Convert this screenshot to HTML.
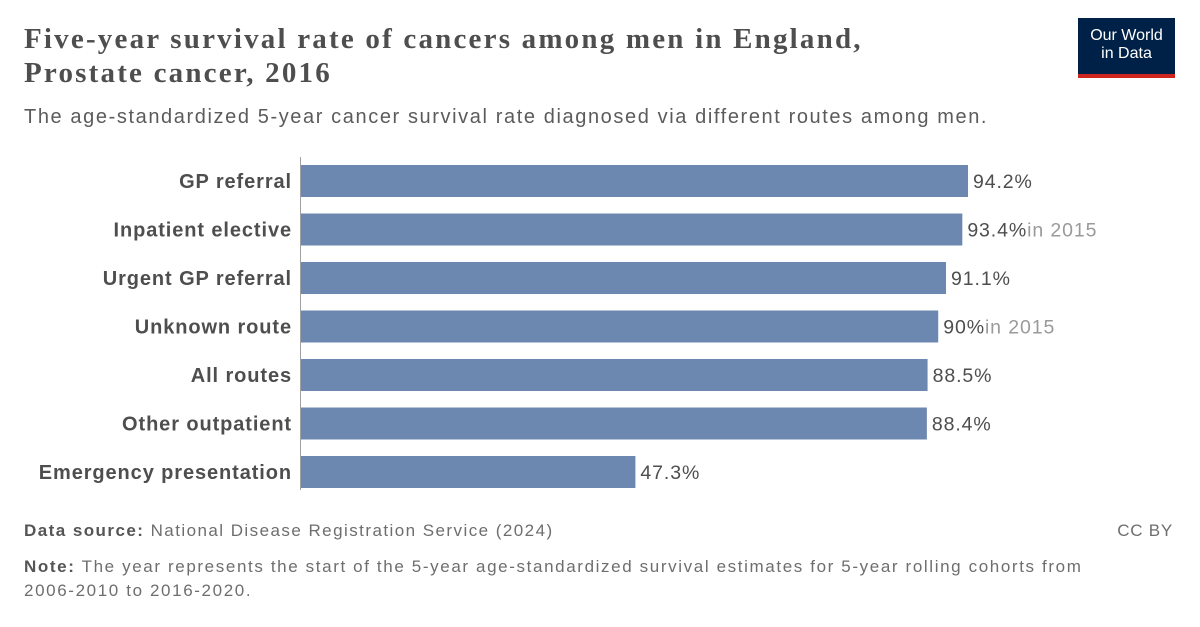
<!DOCTYPE html>
<html><head><meta charset="utf-8"><style>
body{margin:0;width:1200px;height:627px;background:#fff;position:relative;font-family:"Liberation Sans",sans-serif;overflow:hidden}
.t{position:absolute;white-space:nowrap}
</style></head><body>
<div class="t" style="left:24px;top:22px;font-family:'Liberation Serif',serif;font-size:29px;font-weight:bold;letter-spacing:2.2px;line-height:34px;color:#4e4e4e">Five-year survival rate of cancers among men in England,<br>Prostate cancer, 2016</div>
<div class="t" style="left:24px;top:106px;font-size:20px;letter-spacing:1.6px;color:#5b5b5b">The age-standardized 5-year cancer survival rate diagnosed via different routes among men.</div>
<div style="position:absolute;left:1078px;top:18px;width:97px;height:60px;background:#002147;border-bottom:4px solid #ce261e;box-sizing:border-box;color:#fff;font-size:16px;line-height:18px;text-align:center;padding-top:9px">Our World<br>in Data</div>
<svg id="c" width="1200" height="627" style="position:absolute;left:0;top:0"></svg>
<div class="t" style="left:24px;top:521px;font-size:17px;letter-spacing:1.45px;color:#6e6e6e"><b style="color:#555">Data source:</b> National Disease Registration Service (2024)</div>
<div class="t" style="right:27px;top:521px;font-size:17px;letter-spacing:0.75px;color:#6e6e6e">CC BY</div>
<div class="t" style="left:24px;top:555px;font-size:17px;letter-spacing:1.62px;line-height:24px;color:#6e6e6e"><b style="color:#555">Note:</b> The year represents the start of the 5-year age-standardized survival estimates for 5-year rolling cohorts from<br>2006-2010 to 2016-2020.</div>
<script>
const categories=["GP referral","Inpatient elective","Urgent GP referral","Unknown route","All routes","Other outpatient","Emergency presentation"];
const values=[94.2,93.4,91.1,90,88.5,88.4,47.3];
const valueLabels=["94.2%","93.4%","91.1%","90%","88.5%","88.4%","47.3%"];
const yearNotes=["","in 2015","","in 2015","","",""];
const svg=document.getElementById('c');
const NS='http://www.w3.org/2000/svg';
const x0=300,pxPer=668/94.2;
const xs=v=>x0+v*pxPer;
const yc=i=>181+i*48.5;
function mk(t,a){const e=document.createElementNS(NS,t);for(const k in a)e.setAttribute(k,a[k]);svg.appendChild(e);return e;}
categories.forEach((c,i)=>{
 const r=mk('rect',{x:x0,y:yc(i)-16,width:xs(values[i])-x0,height:32,fill:'#6d88b0'});
 
 
 const l=mk('text',{x:292,y:yc(i)+7,'text-anchor':'end','font-size':20,'font-weight':'bold','letter-spacing':0.9,fill:'#4e4e4e','font-family':'Liberation Sans,sans-serif'});
 l.textContent=c;
 
 
 const v=mk('text',{x:xs(values[i])+5,y:yc(i)+7,'font-size':19.5,'letter-spacing':0.9,fill:'#4e4e4e','font-family':'Liberation Sans,sans-serif'});
 v.textContent=valueLabels[i];
 
 
 if(yearNotes[i]){const s=document.createElementNS(NS,'tspan');s.setAttribute('fill','#9a9a9a');s.textContent=yearNotes[i];v.appendChild(s);}
});
const ax=mk('line',{x1:x0+0.5,x2:x0+0.5,y1:157,y2:490,stroke:'#a0a0a0','stroke-width':1});


</script>
</body></html>
